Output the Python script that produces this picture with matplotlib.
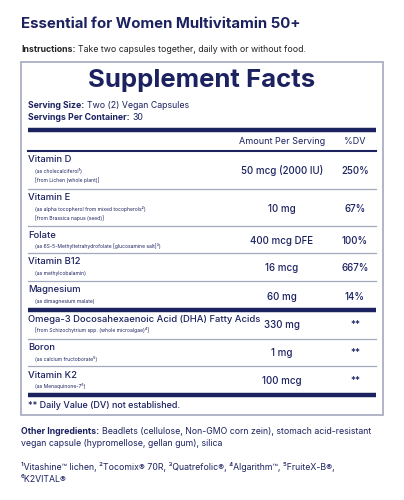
import matplotlib.pyplot as plt

plt.rcParams['font.family'] = ['Inter', 'DejaVu Sans']

NAVY = '#1c2260'
GRAY = '#a4a8bd'

nutrients = ["Vitamin D", "Vitamin E", "Folate", "Vitamin B12", "Magnesium",
             "Omega-3 Docosahexaenoic Acid (DHA) Fatty Acids", "Boron", "Vitamin K2"]
sources = [
    ["(as cholecalciferol¹)", "[from Lichen (whole plant)]"],
    ["(as alpha tocopherol from mixed tocopherols²)", "[from Brassica napus (seed)]"],
    ["(as 6S-5-Methyltetrahydrofolate [glucosamine salt]³)"],
    ["(as methylcobalamin)"],
    ["(as dimagnesium malate)"],
    ["[from Schizochytrium spp. (whole microalgae)⁴]"],
    ["(as calcium fructoborate⁵)"],
    ["(as Menaquinone-7⁶)"],
]
amounts = ["50 mcg (2000 IU)", "10 mg", "400 mcg DFE", "16 mcg", "60 mg",
           "330 mg", "1 mg", "100 mcg"]
daily_values = ["250%", "67%", "100%", "667%", "14%", "**", "**", "**"]

# layout: top and bottom of each row (px)
row_top = [151, 189, 226, 253, 281, 310, 339, 366]
row_bot = [189, 226, 253, 281, 310, 339, 366, 395]
thick_after = {4, 7}

fig = plt.figure(figsize=(4.04, 5.0), dpi=100)
ax = fig.add_axes([0, 0, 1, 1])
ax.set_xlim(0, 404)
ax.set_ylim(500, 0)
ax.axis('off')
renderer = fig.canvas.get_renderer()


def label_text(x, y, label, rest, size=6.3, color=NAVY):
    t = ax.text(x, y, label, fontsize=size, fontweight='bold', color=color, va='center')
    bb = t.get_window_extent(renderer)
    ax.text(x + bb.width + 2.5, y, rest, fontsize=size, color=color, va='center')


ax.text(21, 24, "Essential for Women Multivitamin 50+", fontsize=10.8,
        fontweight='bold', color=NAVY, va='center')
label_text(21, 49, "Instructions:", "Take two capsules together, daily with or without food.",
           color='#222')

ax.add_patch(plt.Rectangle((21, 62), 362, 353, fill=False, edgecolor=GRAY, lw=1.2))
ax.text(202, 80, "Supplement Facts", fontsize=18.5, fontweight='bold', color=NAVY,
        ha='center', va='center')
label_text(28, 105, "Serving Size:", "Two (2) Vegan Capsules")
label_text(28, 118, "Servings Per Container:", "30")
ax.plot([28, 376], [130, 130], color=NAVY, lw=3.2, solid_capstyle='butt')
ax.text(282, 141, "Amount Per Serving", fontsize=6.5, color=NAVY, ha='center', va='center')
ax.text(355, 141, "%DV", fontsize=6.5, color=NAVY, ha='center', va='center')
ax.plot([28, 376], [151, 151], color=NAVY, lw=1.5)

for i, name in enumerate(nutrients):
    top, bot = row_top[i], row_bot[i]
    ax.text(28, top + 9, name, fontsize=6.8, fontweight='medium', color=NAVY, va='center')
    for j, s in enumerate(sources[i]):
        ax.text(35, top + 20 + 9 * j, s, fontsize=3.6, color=NAVY, va='center')
    mid = (top + bot) / 2 + 1
    ax.text(282, mid, amounts[i], fontsize=7, fontweight='medium', color=NAVY, ha='center', va='center')
    ax.text(355, mid, daily_values[i], fontsize=7, fontweight='medium', color=NAVY, ha='center', va='center')
    if i in thick_after:
        ax.plot([28, 376], [bot, bot], color=NAVY, lw=3.2, solid_capstyle='butt')
    else:
        ax.plot([28, 376], [bot, bot], color=GRAY, lw=0.9)

ax.text(28, 406, "** Daily Value (DV) not established.", fontsize=6.5, fontweight='medium',
        color=NAVY, va='center')

label_text(21, 431, "Other Ingredients:",
           "Beadlets (cellulose, Non-GMO corn zein), stomach acid-resistant")
ax.text(21, 443, "vegan capsule (hypromellose, gellan gum), silica",
        fontsize=6.3, color=NAVY, va='center')
ax.text(21, 467, "¹Vitashine™ lichen, ²Tocomix® 70R, ³Quatrefolic®, ⁴Algarithm™, ⁵FruiteX-B®,",
        fontsize=6.3, color=NAVY, va='center')
ax.text(21, 479, "⁶K2VITAL®", fontsize=6.3, color=NAVY, va='center')

fig.savefig('out.png', dpi=100)
